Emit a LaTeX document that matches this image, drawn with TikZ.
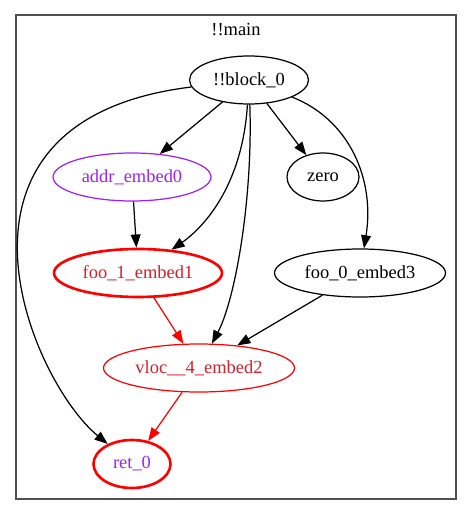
\documentclass[tikz,border=0pt]{standalone}
\usepackage{fontspec}
\setmainfont{Liberation Serif}
\usetikzlibrary{shapes.geometric,arrows.meta}

\definecolor{gvpurple}{HTML}{A020F0}
\definecolor{gvred}{HTML}{FF0000}
\definecolor{gvtext}{HTML}{D81E2C}
\definecolor{frame}{HTML}{505050}

\tikzset{
    blk/.style={ellipse, draw, inner sep=0pt, minimum height=0.96cm,
        line width=0.7pt, font=\fontsize{10.5}{12.6}\selectfont},
    hot/.style={draw=gvred, line width=1.5pt, text=gvtext},
    edge/.style={-{Triangle[length=7.5pt,width=5.6pt]}, line width=0.7pt},
}

\begin{document}
\begin{tikzpicture}[x=0.02cm, y=-0.02cm]
    \useasboundingbox (0,0) rectangle (472,516);
    \draw[frame, line width=1.1pt] (16,15) rectangle (456,499);
    \node[font=\fontsize{10.5}{12.6}\selectfont] (title) at (236,30) {!!main};

    % nodes
    \node[blk, minimum width=2.38cm] (block) at (249,80) {!!block\_0};
    \node[blk, minimum width=3.16cm, draw=gvpurple, text=gvpurple] (addr) at (132,177) {addr\_embed0};
    \node[blk, minimum width=1.44cm] (zero) at (323,177) {zero};
    \node[blk, hot, minimum width=3.36cm] (foo1) at (138,273) {foo\_1\_embed1};
    \node[blk, minimum width=3.42cm] (foo0) at (360,273) {foo\_0\_embed3};
    \node[blk, minimum width=3.82cm, draw=gvred, text=gvtext] (vloc) at (199,368) {vloc\_\_4\_embed2};
    \node[blk, hot, minimum width=1.54cm, text=gvpurple] (ret) at (132,464) {ret\_0};

    % edges
    \draw[edge] (block) .. controls (-80,120) and (30,380) .. (ret);
    \draw[edge] (block) -- (addr);
    \draw[edge] (block) .. controls (242,190) and (200,230) .. (foo1);
    \draw[edge] (block) .. controls (253,200) and (235,300) .. (vloc);
    \draw[edge] (block) -- (zero);
    \draw[edge] (block) .. controls (350,120) and (375,180) .. (foo0);
    \draw[edge] (addr) -- (foo1);
    \draw[edge, gvred] (foo1) -- (vloc);
    \draw[edge] (foo0) -- (vloc);
    \draw[edge, gvred] (vloc) -- (ret);
\end{tikzpicture}
\end{document}
